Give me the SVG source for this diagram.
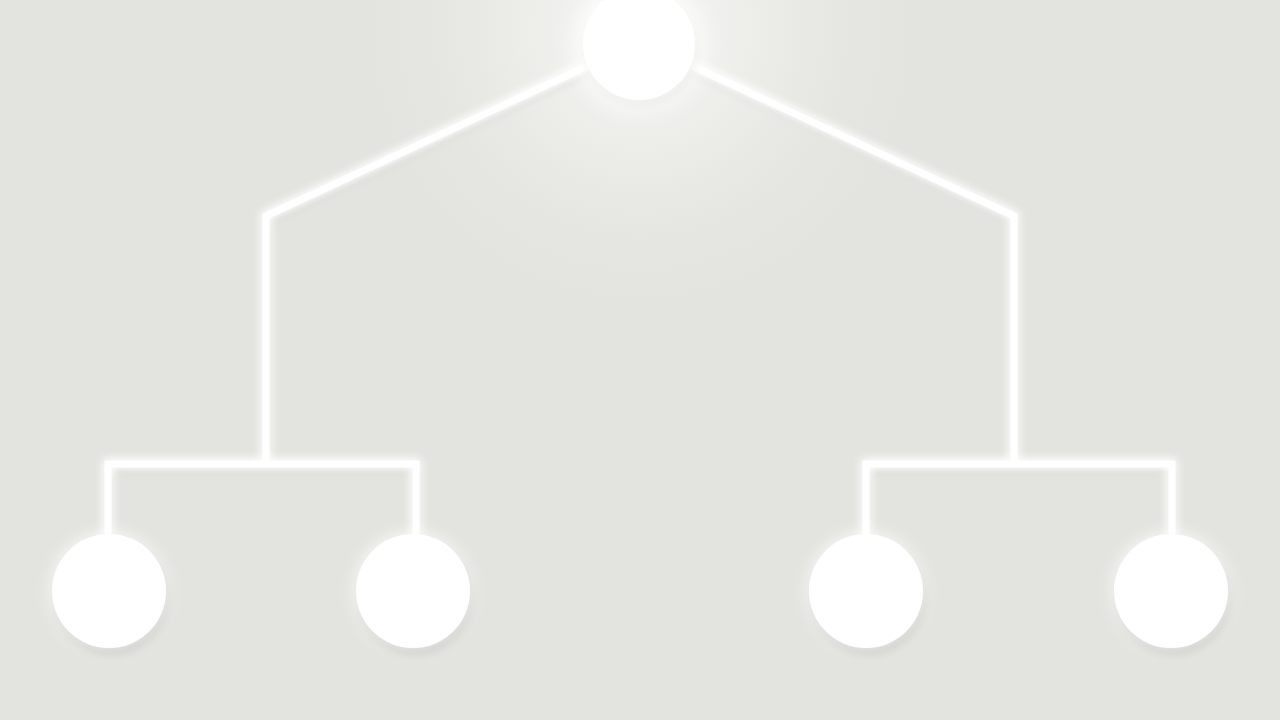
<svg xmlns="http://www.w3.org/2000/svg" width="1280" height="720" viewBox="0 0 1280 720">
  <defs>
    <radialGradient id="bgGlow" cx="640" cy="30" r="300" gradientUnits="userSpaceOnUse">
      <stop offset="0" stop-color="#f6f6f4"/>
      <stop offset="0.45" stop-color="#ebebe8"/>
      <stop offset="1" stop-color="#e3e3df" stop-opacity="0"/>
    </radialGradient>
    <filter id="nodeFx" x="-60%" y="-60%" width="220%" height="220%">
      <feGaussianBlur in="SourceAlpha" stdDeviation="4"/>
      <feOffset dx="2" dy="6" result="sb"/>
      <feFlood flood-color="#80807a" flood-opacity="0.5"/>
      <feComposite in2="sb" operator="in" result="shadow"/>
      <feGaussianBlur in="SourceGraphic" stdDeviation="8" result="glow"/>
      <feMerge>
        <feMergeNode in="shadow"/>
        <feMergeNode in="glow"/>
        <feMergeNode in="SourceGraphic"/>
      </feMerge>
    </filter>
    <filter id="rootFx" x="-80%" y="-80%" width="260%" height="260%">
      <feGaussianBlur in="SourceAlpha" stdDeviation="4"/>
      <feOffset dx="2" dy="5" result="sb"/>
      <feFlood flood-color="#80807a" flood-opacity="0.4"/>
      <feComposite in2="sb" operator="in" result="shadow"/>
      <feGaussianBlur in="SourceGraphic" stdDeviation="14" result="glow"/>
      <feMerge>
        <feMergeNode in="shadow"/>
        <feMergeNode in="glow"/>
        <feMergeNode in="glow"/>
        <feMergeNode in="SourceGraphic"/>
      </feMerge>
    </filter>
    <filter id="lineFx" x="-20%" y="-20%" width="140%" height="140%">
      <feGaussianBlur in="SourceAlpha" stdDeviation="3"/>
      <feOffset dx="1" dy="5" result="sb"/>
      <feFlood flood-color="#909089" flood-opacity="0.35"/>
      <feComposite in2="sb" operator="in" result="shadow"/>
      <feGaussianBlur in="SourceGraphic" stdDeviation="5" result="glow"/>
      <feMerge>
        <feMergeNode in="shadow"/>
        <feMergeNode in="glow"/>
        <feMergeNode in="glow"/>
        <feMergeNode in="SourceGraphic"/>
      </feMerge>
    </filter>
  </defs>
  <style>
    .conn { fill: none; stroke: #ffffff; stroke-width: 7; stroke-linejoin: miter; stroke-linecap: butt; }
    .node { fill: #ffffff; }
  </style>
  <rect x="0" y="0" width="1280" height="720" fill="#e3e3df"/>
  <rect x="0" y="0" width="1280" height="720" fill="url(#bgGlow)"/>

  <g id="connectors" filter="url(#lineFx)">
    <path class="conn" d="M 592 64 L 266 216 L 266 462"/>
    <path class="conn" d="M 108 540 L 108 464 L 416 464 L 416 540"/>
    <path class="conn" d="M 688 64 L 1014 216 L 1014 462"/>
    <path class="conn" d="M 866 540 L 866 464 L 1172 464 L 1172 540"/>
  </g>

  <g id="node-root" filter="url(#rootFx)">
    <circle class="node" cx="639" cy="44" r="56"/>
  </g>
  <g id="node-ll" filter="url(#nodeFx)">
    <circle class="node" cx="109" cy="591" r="57"/>
  </g>
  <g id="node-lr" filter="url(#nodeFx)">
    <circle class="node" cx="413" cy="591" r="57"/>
  </g>
  <g id="node-rl" filter="url(#nodeFx)">
    <circle class="node" cx="866" cy="591" r="57"/>
  </g>
  <g id="node-rr" filter="url(#nodeFx)">
    <circle class="node" cx="1171" cy="591" r="57"/>
  </g>
</svg>
